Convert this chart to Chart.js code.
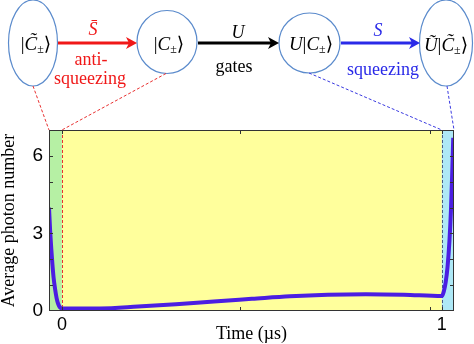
<!DOCTYPE html>
<html>
<head>
<meta charset="utf-8">
<script src="https://cdn.jsdelivr.net/npm/chart.js@4.4.1/dist/chart.umd.min.js"></script>
<style>
  body { margin: 0; background: #fff; }
  #wrap { position: relative; width: 474px; height: 344px; }
  .lbl { position: absolute; font-family: 'Liberation Serif', 'DejaVu Serif', serif; font-size: 18px; line-height: 1;
         transform: translate(-50%, -50%); white-space: nowrap; }
  .ket { font-size: 19px; }
  .ket sub { font-size: 12px; vertical-align: -3px; }
  .red { color: #f01818; }
  .blue { color: #2a2ae8; }
</style>
</head>
<body>
<div id="wrap">
  <canvas id="chart" width="474" height="344"></canvas>
  <div class="lbl ket" style="left:36px;top:44px">|<i>C̃</i><sub>±</sub>⟩</div>
  <div class="lbl ket" style="left:169px;top:44px">|<i>C</i><sub>±</sub>⟩</div>
  <div class="lbl ket" style="left:311px;top:44px"><i>U</i>|<i>C</i><sub>±</sub>⟩</div>
  <div class="lbl ket" style="left:446px;top:45px"><i>Ũ</i>|<i>C̃</i><sub>±</sub>⟩</div>
  <div class="lbl red" style="left:93px;top:29px"><i>S̄</i></div>
  <div class="lbl red" style="left:91px;top:59px">anti-</div>
  <div class="lbl red" style="left:90px;top:78px">squeezing</div>
  <div class="lbl" style="left:238px;top:32px"><i>U</i></div>
  <div class="lbl" style="left:234px;top:66px">gates</div>
  <div class="lbl blue" style="left:378px;top:30px"><i>S</i></div>
  <div class="lbl blue" style="left:383px;top:69px">squeezing</div>
</div>
<script>
// time axis in microseconds, photon number
const timeUs = [-0.034, -0.031, -0.028, -0.025, -0.022, -0.018, -0.014, -0.010, -0.005, 0,
                0.1, 0.2, 0.3, 0.4, 0.5, 0.6, 0.7, 0.8, 0.9, 1.0,
                1.005, 1.01, 1.015, 1.02, 1.024, 1.027, 1.03];
const photons = [4.0, 3.1, 2.4, 1.8, 1.3, 0.85, 0.5, 0.28, 0.14, 0.1,
                 0.1, 0.17, 0.26, 0.37, 0.47, 0.57, 0.63, 0.65, 0.63, 0.58,
                 0.75, 1.1, 1.7, 2.7, 3.9, 5.2, 6.7];

// stage boundaries: anti-squeezing | gates | squeezing
const stageEdges = [-0.034, 0, 1, 1.032];
const xTicks = [0, 0.47, 0.97, 1];
const xTickLabels = ['0', '', '', '1'];
const yTickLabels = ['0', '', '', '3', '', '', '6', ''];

const stageColors = ['#b6f0a4', '#ffff9c', '#aee8f6'];

const diagram = {
  id: 'diagram',
  beforeDatasetsDraw(chart) {
    const { ctx, chartArea: a, scales: { x } } = chart;
    ctx.save();
    for (let i = 0; i < stageColors.length; i++) {
      const x0 = x.getPixelForValue(stageEdges[i]);
      const x1 = x.getPixelForValue(stageEdges[i + 1]);
      ctx.fillStyle = stageColors[i];
      ctx.fillRect(x0, a.top, x1 - x0, a.bottom - a.top);
    }
    ctx.lineWidth = 1;
    ctx.setLineDash([3, 2]);
    ctx.strokeStyle = '#e83030';
    [stageEdges[0], stageEdges[1]].forEach(v => {
      const px = Math.round(x.getPixelForValue(v)) + 0.5;
      ctx.beginPath(); ctx.moveTo(px, a.top); ctx.lineTo(px, a.bottom); ctx.stroke();
    });
    ctx.strokeStyle = '#4a5a8a';
    const p1 = Math.round(x.getPixelForValue(stageEdges[2])) + 0.5;
    ctx.beginPath(); ctx.moveTo(p1, a.top); ctx.lineTo(p1, a.bottom); ctx.stroke();
    ctx.restore();
  },
  afterDatasetsDraw(chart) {
    const { ctx, chartArea: a, scales: { x, y } } = chart;
    ctx.save();
    ctx.strokeStyle = '#333';
    ctx.lineWidth = 1;
    ctx.strokeRect(a.left + 0.5, a.top + 0.5, a.right - a.left - 1, a.bottom - a.top - 1);
    ctx.beginPath();
    y.ticks.forEach(t => {
      if (t.value <= y.min || t.value >= y.max) return;
      const py = Math.round(y.getPixelForValue(t.value)) + 0.5;
      ctx.moveTo(a.left, py); ctx.lineTo(a.left + 4, py);
      ctx.moveTo(a.right, py); ctx.lineTo(a.right - 4, py);
    });
    x.ticks.forEach(t => {
      const px = Math.round(x.getPixelForValue(t.value)) + 0.5;
      ctx.moveTo(px, a.bottom); ctx.lineTo(px, a.bottom - 4);
      ctx.moveTo(px, a.top); ctx.lineTo(px, a.top + 4);
    });
    ctx.stroke();
    ctx.restore();
  },
  afterDraw(chart) {
    const { ctx, chartArea: a, scales: { x } } = chart;
    ctx.save();
    // state bubbles
    ctx.strokeStyle = '#5b8bcc';
    ctx.lineWidth = 1.2;
    [[33, 43, 24.5, 43], [167, 42, 30, 31.5], [309.5, 43, 30.5, 30], [446, 43, 26.5, 43]].forEach(e => {
      ctx.beginPath(); ctx.ellipse(e[0], e[1], e[2], e[3], 0, 0, Math.PI * 2); ctx.stroke();
    });
    // arrows
    const arrow = (x0, x1, yy, col) => {
      ctx.strokeStyle = col; ctx.fillStyle = col; ctx.lineWidth = 3;
      ctx.beginPath(); ctx.moveTo(x0, yy); ctx.lineTo(x1 - 8, yy); ctx.stroke();
      ctx.beginPath(); ctx.moveTo(x1, yy); ctx.lineTo(x1 - 11, yy - 6); ctx.lineTo(x1 - 8, yy);
      ctx.lineTo(x1 - 11, yy + 6); ctx.closePath(); ctx.fill();
    };
    arrow(58, 137, 43, '#f01818');
    arrow(198, 279, 43, '#000');
    arrow(341, 420, 43, '#2a2ae8');
    // connectors from bubbles to the plot stages
    ctx.lineWidth = 1;
    ctx.setLineDash([3, 2]);
    const seg = (x0, y0, v, col) => {
      ctx.strokeStyle = col;
      ctx.beginPath(); ctx.moveTo(x0, y0); ctx.lineTo(x.getPixelForValue(v), a.top); ctx.stroke();
    };
    seg(33, 86, stageEdges[0], '#e83030');
    seg(166, 73.5, stageEdges[1], '#e83030');
    seg(309, 73, stageEdges[2], '#3a3ae0');
    seg(447, 86, stageEdges[3], '#3a3ae0');
    ctx.restore();
  }
};

new Chart(document.getElementById('chart'), {
  type: 'line',
  data: {
    datasets: [{
      data: timeUs.map((t, i) => ({ x: t, y: photons[i] })),
      borderColor: '#4b1ee2',
      borderWidth: 4,
      pointRadius: 0,
      cubicInterpolationMode: 'monotone',
      fill: false
    }]
  },
  options: {
    responsive: false,
    animation: false,
    layout: { padding: { top: 130, right: 20, left: 0, bottom: 0 } },
    plugins: { legend: { display: false }, tooltip: { enabled: false } },
    scales: {
      x: {
        type: 'linear',
        min: stageEdges[0],
        max: stageEdges[3],
        grid: { display: false, drawTicks: false },
        border: { display: false },
        afterBuildTicks: s => { s.ticks = xTicks.map(v => ({ value: v })); },
        afterFit: s => { s.height = 33; },
        ticks: {
          autoSkip: false,
          maxRotation: 0,
          padding: 3,
          color: '#000',
          font: { family: 'Liberation Sans', size: 18 },
          callback: (v, i) => xTickLabels[i]
        },
        title: {
          display: true,
          text: 'Time (µs)',
          color: '#000',
          font: { family: 'Liberation Serif', size: 18, lineHeight: 1 },
          padding: { top: 0, bottom: 1 }
        }
      },
      y: {
        min: 0,
        max: 7,
        grid: { display: false, drawTicks: false },
        border: { display: false },
        afterFit: s => { s.width = 49; },
        ticks: {
          stepSize: 1,
          padding: 6,
          color: '#000',
          font: { family: 'Liberation Sans', size: 19 },
          callback: (v, i) => yTickLabels[i]
        },
        title: {
          display: true,
          text: 'Average photon number',
          color: '#000',
          font: { family: 'Liberation Serif', size: 18, lineHeight: 1 },
          padding: { top: 0, bottom: 0 }
        }
      }
    }
  },
  plugins: [diagram]
});
</script>
</body>
</html>
